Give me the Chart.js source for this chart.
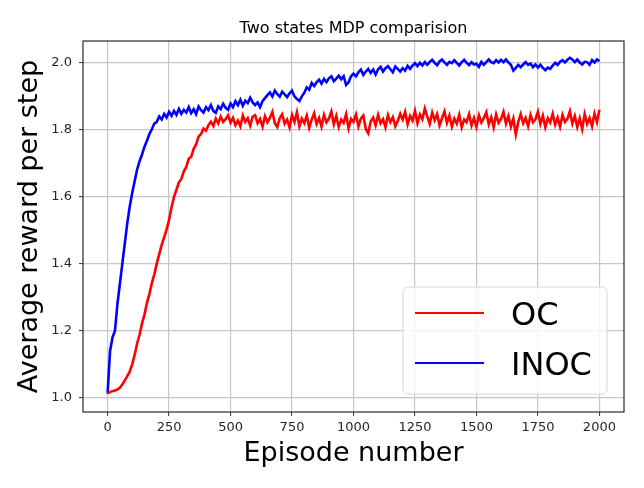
<!DOCTYPE html>
<html>
<head>
<meta charset="utf-8">
<title>Two states MDP comparision</title>
<script src="https://cdn.jsdelivr.net/npm/chart.js@4.4.0/dist/chart.umd.min.js"></script>
<style>
    html, body { margin: 0; padding: 0; background: #ffffff; }
    #wrap { width: 644px; height: 488px; }
</style>
</head>
<body>
<div id="wrap"><canvas id="mdp-chart" width="644" height="488"></canvas></div>
<script>
// ---------------------------------------------------------------------------
// data (one sample every 10 episodes)
// ---------------------------------------------------------------------------
const episodes = [
    0, 10, 20, 30, 40, 50, 60, 70, 80, 90,
    100, 110, 120, 130, 140, 150, 160, 170, 180, 190,
    200, 210, 220, 230, 240, 250, 260, 270, 280, 290,
    300, 310, 320, 330, 340, 350, 360, 370, 380, 390,
    400, 410, 420, 430, 440, 450, 460, 470, 480, 490,
    500, 510, 520, 530, 540, 550, 560, 570, 580, 590,
    600, 610, 620, 630, 640, 650, 660, 670, 680, 690,
    700, 710, 720, 730, 740, 750, 760, 770, 780, 790,
    800, 810, 820, 830, 840, 850, 860, 870, 880, 890,
    900, 910, 920, 930, 940, 950, 960, 970, 980, 990,
    1000, 1010, 1020, 1030, 1040, 1050, 1060, 1070, 1080, 1090,
    1100, 1110, 1120, 1130, 1140, 1150, 1160, 1170, 1180, 1190,
    1200, 1210, 1220, 1230, 1240, 1250, 1260, 1270, 1280, 1290,
    1300, 1310, 1320, 1330, 1340, 1350, 1360, 1370, 1380, 1390,
    1400, 1410, 1420, 1430, 1440, 1450, 1460, 1470, 1480, 1490,
    1500, 1510, 1520, 1530, 1540, 1550, 1560, 1570, 1580, 1590,
    1600, 1610, 1620, 1630, 1640, 1650, 1660, 1670, 1680, 1690,
    1700, 1710, 1720, 1730, 1740, 1750, 1760, 1770, 1780, 1790,
    1800, 1810, 1820, 1830, 1840, 1850, 1860, 1870, 1880, 1890,
    1900, 1910, 1920, 1930, 1940, 1950, 1960, 1970, 1980, 1990,
    2000
];

const ocReward = [
    1.013, 1.018, 1.020, 1.022, 1.025, 1.030, 1.040, 1.052, 1.065, 1.078,
    1.100, 1.128, 1.162, 1.188, 1.222, 1.248, 1.283, 1.309, 1.342, 1.368,
    1.400, 1.428, 1.456, 1.478, 1.502, 1.530, 1.568, 1.598, 1.620, 1.642,
    1.652, 1.675, 1.688, 1.712, 1.718, 1.742, 1.755, 1.778, 1.786, 1.802,
    1.796, 1.812, 1.822, 1.810, 1.832, 1.818, 1.838, 1.822, 1.830, 1.842,
    1.820, 1.834, 1.812, 1.826, 1.809, 1.841, 1.822, 1.833, 1.811, 1.838,
    1.842, 1.818, 1.831, 1.808, 1.839, 1.821, 1.834, 1.852, 1.819, 1.807,
    1.833, 1.845, 1.817, 1.829, 1.806, 1.843, 1.822, 1.851, 1.809, 1.832,
    1.818, 1.841, 1.805, 1.829, 1.848, 1.816, 1.834, 1.808, 1.843, 1.821,
    1.832, 1.853, 1.815, 1.840, 1.807, 1.829, 1.819, 1.845, 1.803, 1.831,
    1.822, 1.844, 1.809, 1.832, 1.841, 1.801, 1.788, 1.823, 1.835, 1.812,
    1.843, 1.818, 1.830, 1.806, 1.842, 1.821, 1.836, 1.809, 1.825, 1.846,
    1.829, 1.852, 1.815, 1.840, 1.826, 1.855, 1.818, 1.844, 1.830, 1.862,
    1.838, 1.816, 1.850, 1.827, 1.845, 1.812, 1.833, 1.853, 1.819, 1.841,
    1.808, 1.832, 1.817, 1.843, 1.806, 1.829, 1.821, 1.845, 1.812, 1.834,
    1.807, 1.842, 1.820, 1.833, 1.851, 1.815, 1.836, 1.806, 1.844, 1.819,
    1.831, 1.852, 1.817, 1.840, 1.808, 1.832, 1.785, 1.822, 1.845, 1.818,
    1.834, 1.809, 1.843, 1.821, 1.830, 1.852, 1.816, 1.841, 1.806, 1.833,
    1.820, 1.846, 1.814, 1.835, 1.808, 1.843, 1.822, 1.831, 1.854, 1.817,
    1.840, 1.807, 1.833, 1.801, 1.845, 1.816, 1.834, 1.809, 1.847, 1.821,
    1.858
];

const inocReward = [
    1.013, 1.140, 1.180, 1.200, 1.280, 1.340, 1.400, 1.460, 1.520, 1.570,
    1.610, 1.645, 1.680, 1.705, 1.725, 1.748, 1.766, 1.786, 1.800, 1.817,
    1.822, 1.838, 1.829, 1.846, 1.835, 1.852, 1.840, 1.855, 1.843, 1.861,
    1.846, 1.858, 1.850, 1.866, 1.848, 1.860, 1.845, 1.868, 1.857, 1.850,
    1.866, 1.857, 1.872, 1.855, 1.849, 1.868, 1.860, 1.876, 1.864, 1.858,
    1.877, 1.866, 1.884, 1.872, 1.888, 1.870, 1.885, 1.878, 1.894, 1.880,
    1.872, 1.880, 1.866, 1.884, 1.893, 1.902, 1.910, 1.898, 1.915, 1.905,
    1.897, 1.912, 1.904, 1.896, 1.907, 1.915, 1.898, 1.890, 1.884, 1.898,
    1.909, 1.925, 1.918, 1.938, 1.929, 1.940, 1.948, 1.936, 1.950, 1.941,
    1.952, 1.958, 1.943, 1.951, 1.960, 1.949, 1.958, 1.932, 1.940, 1.958,
    1.966, 1.958, 1.970, 1.978, 1.962, 1.972, 1.980, 1.968, 1.978, 1.963,
    1.979, 1.986, 1.972, 1.982, 1.988, 1.979, 1.970, 1.987, 1.980, 1.972,
    1.982, 1.975, 1.989, 1.980, 1.990, 1.997, 1.988, 1.998, 1.990, 2.000,
    1.992, 2.001, 2.007, 1.998, 1.991, 2.002, 2.008, 1.999, 1.992, 2.001,
    1.997, 2.006, 1.998, 1.990, 2.000, 2.007, 1.998, 1.991, 2.000, 1.993,
    1.995, 1.986, 2.001, 1.992, 2.000, 2.008, 2.000, 1.997, 2.006, 1.999,
    2.007, 2.000, 2.008, 1.999, 1.992, 1.975, 1.983, 1.992, 1.985, 1.993,
    2.000, 1.992, 1.996, 1.985, 1.993, 1.984, 1.992, 1.983, 1.976, 1.984,
    1.980, 1.990, 1.998, 1.992, 2.001, 2.006, 1.999, 2.007, 2.013, 2.008,
    2.000, 2.008, 1.999, 1.993, 2.001, 2.000, 1.992, 2.006, 1.999, 2.008,
    2.003
];

const seriesNames = ['OC', 'INOC'];
const seriesColors = ['#ff0000', '#0000ff'];
const xTickValues = [0, 250, 500, 750, 1000, 1250, 1500, 1750, 2000];
const yTickValues = [1.0, 1.2, 1.4, 1.6, 1.8, 2.0];
const chartTitle = 'Two states MDP comparision';

const FONT = "'DejaVu Sans', 'Liberation Sans', sans-serif";

// ---------------------------------------------------------------------------
// plugins: title over the plot box, full box of spines, legend inside the plot
// ---------------------------------------------------------------------------
const frameAndLegend = {
    id: 'frameAndLegend',
    afterDraw(chart) {
        const ctx = chart.ctx;
        const area = chart.chartArea;
        ctx.save();

        // title, centred on the plot area like matplotlib does
        ctx.font = '16px ' + FONT;
        ctx.fillStyle = '#000000';
        ctx.textAlign = 'center';
        ctx.textBaseline = 'alphabetic';
        ctx.fillText(chartTitle, (area.left + area.right) / 2, area.top - 8);

        // spines
        ctx.strokeStyle = '#2b2b2b';
        ctx.lineWidth = 1.2;
        ctx.strokeRect(area.left, area.top, area.right - area.left, area.bottom - area.top);

        // legend box
        const boxW = 204, boxH = 107;
        const boxX = area.right - 17 - boxW;
        const boxY = area.bottom - 18 - boxH;
        ctx.beginPath();
        ctx.roundRect(boxX, boxY, boxW, boxH, 5);
        ctx.fillStyle = 'rgba(255,255,255,0.8)';
        ctx.fill();
        ctx.strokeStyle = '#d6d6d6';
        ctx.lineWidth = 1;
        ctx.stroke();

        ctx.font = '32px ' + FONT;
        ctx.textAlign = 'left';
        chart.data.datasets.forEach((ds, i) => {
            const rowY = boxY + 26 + i * 50;
            ctx.beginPath();
            ctx.moveTo(boxX + 12, rowY);
            ctx.lineTo(boxX + 81, rowY);
            ctx.strokeStyle = ds.borderColor;
            ctx.lineWidth = 2;
            ctx.stroke();
            ctx.fillStyle = '#000000';
            ctx.fillText(ds.label, boxX + 108, rowY + 12);
        });

        ctx.restore();
    }
};

// ---------------------------------------------------------------------------
// chart
// ---------------------------------------------------------------------------
const ctx = document.getElementById('mdp-chart').getContext('2d');

const datasets = [ocReward, inocReward].map((values, i) => ({
    label: seriesNames[i],
    data: episodes.map((ep, j) => ({ x: ep, y: values[j] })),
    borderColor: seriesColors[i],
    backgroundColor: seriesColors[i],
    borderWidth: 2.6,
    pointRadius: 0,
    tension: 0,
    fill: false
}));

new Chart(ctx, {
    type: 'line',
    data: { datasets: datasets },
    plugins: [frameAndLegend],
    options: {
        responsive: false,
        animation: false,
        layout: { padding: { left: 0, right: 20, top: 41, bottom: 0 } },
        plugins: {
            legend: { display: false },
            tooltip: { enabled: false },
            title: { display: false }
        },
        scales: {
            x: {
                type: 'linear',
                min: -100,
                max: 2100,
                afterBuildTicks: (axis) => { axis.ticks = xTickValues.map(v => ({ value: v })); },
                afterFit: (axis) => { axis.height = 76; },
                border: { display: false },
                grid: {
                    color: '#c6c6c6',
                    lineWidth: 1.2,
                    drawTicks: true,
                    tickLength: 4,
                    tickColor: '#333333',
                    tickWidth: 1
                },
                ticks: {
                    color: '#262626',
                    font: { family: FONT, size: 13 },
                    padding: 4,
                    maxRotation: 0,
                    callback: (v) => String(v)
                },
                title: {
                    display: true,
                    text: 'Episode number',
                    color: '#000000',
                    font: { family: FONT, size: 27 },
                    padding: { top: 0, bottom: 18 }
                }
            },
            y: {
                type: 'linear',
                min: 0.958,
                max: 2.063,
                afterBuildTicks: (axis) => { axis.ticks = yTickValues.map(v => ({ value: v })); },
                afterFit: (axis) => { axis.width = 83; },
                border: { display: false },
                grid: {
                    color: '#c6c6c6',
                    lineWidth: 1.2,
                    drawTicks: true,
                    tickLength: 4,
                    tickColor: '#333333',
                    tickWidth: 1
                },
                ticks: {
                    color: '#262626',
                    font: { family: FONT, size: 13 },
                    padding: 7,
                    callback: (v) => Number(v).toFixed(1)
                },
                title: {
                    display: true,
                    text: 'Average reward per step',
                    color: '#000000',
                    font: { family: FONT, size: 27 },
                    padding: { top: 14, bottom: 0 }
                }
            }
        }
    }
});
</script>
</body>
</html>
